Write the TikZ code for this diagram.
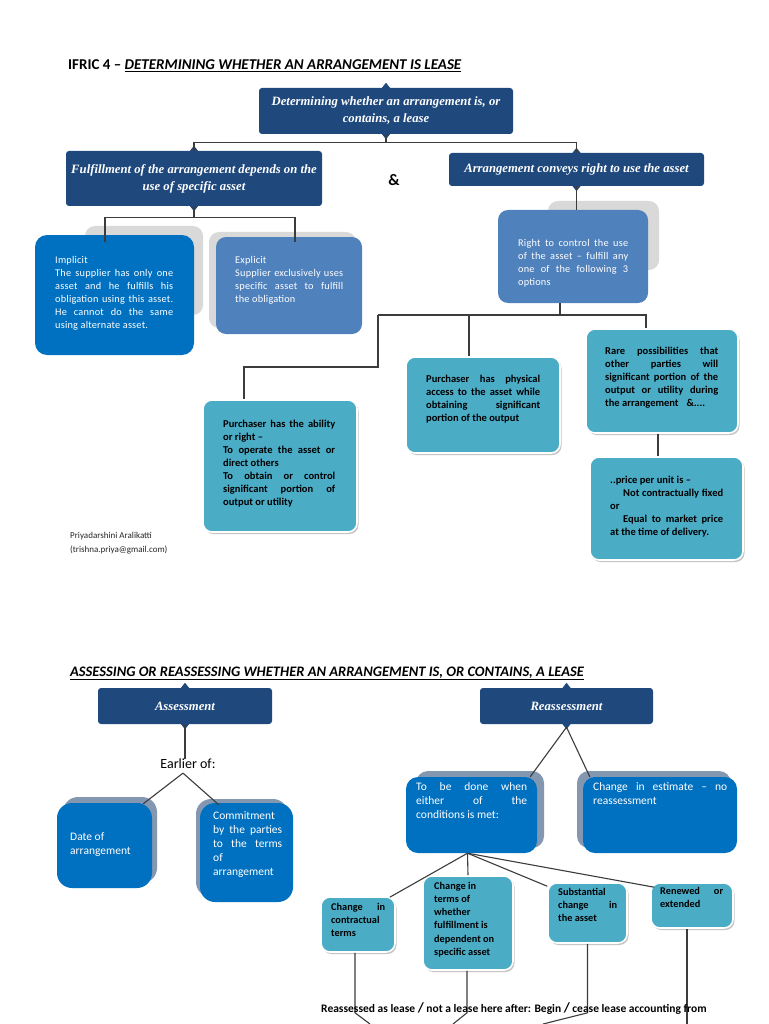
\documentclass[tikz,border=0pt]{standalone}
\usepackage{fontspec}
\setmainfont{Carlito}
\newfontfamily\serifbi{Liberation Serif}
\newfontfamily\lsfont[LetterSpace=2.0]{Carlito}
\usetikzlibrary{fit,calc,shadows}
\definecolor{dk}{HTML}{1F497D}
\definecolor{mb}{HTML}{0070C0}
\definecolor{lb}{HTML}{4F81BD}
\definecolor{tl}{HTML}{4BACC6}
\definecolor{sh}{HTML}{D9D9D9}
\definecolor{sb}{HTML}{8497B0}
\definecolor{ln}{HTML}{3C3C3C}
\newcommand\jl[1]{\hbox to\hsize{\strut#1}}
\newcommand\Ln[1]{\hbox{\strut#1}}
\newcommand\tb[2]{\vbox{\hsize=#1\relax #2}}
\newcommand\notches[1]{%
  \fill[dk] ([xshift=-4pt]#1.north) -- ([yshift=5pt]#1.north) -- ([xshift=4pt]#1.north) -- cycle;
  \fill[dk] ([xshift=-4pt]#1.south) -- ([yshift=-5pt]#1.south) -- ([xshift=4pt]#1.south) -- cycle;}
\tikzset{
  dkbox/.style={fill=dk, rounded corners=3pt, inner sep=0},
  mbbox/.style={fill=mb, rounded corners=12pt, inner sep=0},
  lbbox/.style={fill=lb, rounded corners=10pt, inner sep=0},
  tlbox/.style={fill=tl, draw=white, line width=1.6pt, rounded corners=9pt, inner sep=0,
    drop shadow={shadow xshift=1.5pt, shadow yshift=-2pt, fill=black!45, opacity=.5}},
  hd/.style={inner sep=0, align=center, text=white, font={\fontsize{12.7}{17}\serifbi\bfseries\itshape}},
  tx/.style={inner sep=0, anchor=north west, text=white, font={\fontsize{10.3}{13}\lsfont}},
  txb/.style={inner sep=0, anchor=north west, text=black, font={\fontsize{10.5}{13}\selectfont\bfseries}},
  txs/.style={inner sep=0, anchor=north west, text=black, font={\fontsize{10.3}{13.2}\selectfont\bfseries}},
  txc/.style={inner sep=0, anchor=north west, text=white, font={\fontsize{11.5}{14}\selectfont}},
  cn/.style={draw=ln, line width=1.1pt},
}
\begin{document}
\begin{tikzpicture}[x=1pt,y=-1pt]
\useasboundingbox (0,0) rectangle (768,1024);
\fill[white] (0,0) rectangle (768,1024);

% ---------- title ----------
\node[anchor=base west, inner sep=0, font={\fontsize{15}{17}\selectfont\bfseries}] (title) at (68,70)
  {IFRIC 4 -- \textit{\underline{DETERMINING WHETHER AN ARRANGEMENT IS LEASE}}};

% ---------- top boxes ----------
\node[dkbox, fit={(259,88)(513,134)}] (A) {};
\node[hd] (At) at (A.center) {Determining whether an arrangement is, or\\contains, a lease};
\node[dkbox, fit={(66,151)(322,206)}] (B) {};
\node[hd] (Bt) at (B.center) {Fulfillment of the arrangement depends on the\\use of specific asset};
\node[dkbox, fit={(449,153)(704,186)}] (C) {};
\node[hd] (Ct) at (C.center) {Arrangement conveys right to use the asset};
\notches{A}\notches{B}\notches{C}
\node[inner sep=0, font={\fontsize{16}{18}\selectfont\bfseries}] (amp) at (394,180) {\&};

\draw[cn] (A.south) -- ++(0,8) coordinate (ab) -| (B.north);
\draw[cn] (ab) -| (C.north);

% ---------- implicit / explicit ----------
\fill[sh, rounded corners=10pt] (85,226) rectangle (203,315);
\node[mbbox, fit={(35,235)(194,355)}] (impl) {};
\node[tx] (implT) at (55,253.9) {\tb{118pt}{\Ln{Implicit}\jl{The supplier has only one}\jl{asset and he fulfills his}\jl{obligation using this asset.}\jl{He cannot do the same}\Ln{using alternate asset.}}};
\fill[sh, rounded corners=10pt] (209,232) rectangle (356,328);
\node[lbbox, fit={(216,237)(362,334)}] (expl) {};
\node[tx] (explT) at (235,253.9) {\tb{108pt}{\Ln{Explicit}\jl{Supplier exclusively uses}\jl{specific asset to fulfill}\Ln{the obligation}}};
\draw[cn] (B.south) -- ++(0,11) coordinate (bk);
\draw[cn] ([xshift=-9.5pt,yshift=-7pt]impl.north) |- (bk) -| ([xshift=6pt,yshift=-5pt]expl.north);

% ---------- right to control ----------
\fill[sh, rounded corners=10pt] (548,201) rectangle (659,270);
\node[lbbox, fit={(498,210)(648,303)}] (D) {};
\node[tx] (DT) at (518,236.9) {\tb{110pt}{\jl{Right to control the use}\jl{of the asset – fulfill any}\jl{one of the following 3}\Ln{options}}};
\draw[cn] (C.south) -- (C.south |- D.north);

% ---------- three options ----------
\node[tlbox, fit={(203,400)(357,532)}] (P1) {};
\node[txb] (P1T) at (223,417.9) {\tb{112pt}{\jl{Purchaser has the ability}\Ln{or right –}\jl{To operate the asset or}\Ln{direct others}\jl{To obtain or control}\jl{significant portion of}\Ln{output or utility}}};
\node[tlbox, fit={(406,357)(560,453)}] (P2) {};
\node[txb] (P2T) at (426,372.9) {\tb{114pt}{\jl{Purchaser has physical}\jl{access to the asset while}\jl{obtaining significant}\Ln{portion of the output}}};
\node[tlbox, fit={(586,329)(738,433)}] (P3) {};
\node[txb] (P3T) at (605,344.9) {\tb{113pt}{\jl{Rare possibilities that}\jl{other parties will}\jl{significant portion of the}\jl{output or utility during}\Ln{the arrangement\hspace{8pt}\&....}}};
\node[tlbox, fit={(590,457)(743,560)}] (P4) {};
\node[txb] (P4T) at (610,473.9) {\tb{113pt}{\Ln{..price per unit is –}\jl{\hspace*{13pt}Not contractually fixed}\Ln{or}\jl{\hspace*{13pt}Equal to market price}\Ln{at the time of delivery.}}};

\coordinate (busL) at (378,315);
\draw[cn] ([xshift=-13pt]D.south) |- (busL);
\coordinate (p1t) at ([xshift=-36pt]P1.north);
\draw[cn] (busL) -- ++(0,52) -| (p1t);
\coordinate (p2t) at ([xshift=-14pt]P2.north);
\draw[cn] (p2t |- busL) -- (p2t);
\coordinate (p3t) at ([xshift=-16pt]P3.north);
\draw[cn] (busL) -| (p3t);
\coordinate (p3b) at ([xshift=-4pt]P3.south);
\draw[cn] (p3b) -- (p3b |- P4.north);

% ---------- author ----------
\node[inner sep=0, anchor=north west, font={\fontsize{9}{14}\selectfont}, text=black!85] (auth) at (70,528.2)
  {\tb{150pt}{\Ln{Priyadarshini Aralikatti}\Ln{(trishna.priya@gmail.com)}}};

% ---------- second heading ----------
\node[anchor=base west, inner sep=0, font={\fontsize{14.5}{16}\selectfont\bfseries\itshape}] (h2) at (70,676)
  {\underline{ASSESSING OR REASSESSING WHETHER AN ARRANGEMENT IS, OR CONTAINS, A LEASE}};

\node[dkbox, fit={(98,688)(272,724)}] (AS) {};
\node[hd] (AST) at (AS.center) {Assessment};
\node[dkbox, fit={(480,688)(653,724)}] (RA) {};
\node[hd] (RAT) at (RA.center) {Reassessment};
\notches{AS}\notches{RA}

\node[inner sep=0, font={\fontsize{14}{16}\selectfont}] (EO) at (188,764) {Earlier of:};
\draw[cn] (AS.south) -- (AS.south |- EO.north);

\fill[sb, rounded corners=15pt] (63,797) rectangle (157,883);
\node[mbbox, rounded corners=15pt, fit={(57,803)(152,888)}] (DA) {};
\node[txc] (DAT) at (70,830.2) {\tb{80pt}{\Ln{Date of}\Ln{arrangement}}};
\fill[sb, rounded corners=15pt] (196,799) rectangle (288,897);
\node[mbbox, rounded corners=15pt, fit={(200,803)(293,902)}] (CO) {};
\node[txc] (COT) at (213,809.2) {\tb{69pt}{\Ln{Commitment}\jl{by the parties}\jl{to the terms}\Ln{of}\Ln{arrangement}}};
\coordinate (eo) at ([xshift=-5pt,yshift=-4pt]EO.south);
\draw[cn] (eo) -- ([xshift=-9pt,yshift=-1pt]DA.north east);
\draw[cn] (eo) -- ([xshift=19pt,yshift=-2pt]CO.north west);

\fill[sb, rounded corners=12pt] (416,771) rectangle (544,848);
\node[mbbox, fit={(406,777)(537,853)}] (TBD) {};
\node[txc] (TBDT) at (416,780.2) {\tb{111pt}{\jl{To be done when}\jl{either of the}\Ln{conditions is met:}}};
\fill[sb, rounded corners=12pt] (577,771) rectangle (731,848);
\node[mbbox, fit={(583,777)(737,853)}] (CE) {};
\node[txc] (CET) at (593,780.2) {\tb{134pt}{\jl{Change in estimate – no}\Ln{reassessment}}};
\coordinate (ra) at ([yshift=-3pt]RA.south);
\draw[cn] (ra) -- ([xshift=-7pt]TBD.north east);
\draw[cn] (ra) -- ([xshift=7pt]CE.north west);

% ---------- conditions ----------
\node[tlbox, fit={(321,897)(395,952)}] (CT) {};
\node[txs] (CTT) at (331,900.8) {\tb{54pt}{\jl{Change in}\Ln{contractual}\Ln{terms}}};
\node[tlbox, fit={(423,876)(513,970)}] (CW) {};
\node[txs] (CWT) at (434,879.8) {\tb{70pt}{\Ln{Change in}\Ln{terms of}\Ln{whether}\Ln{fulfillment is}\Ln{dependent on}\Ln{specific asset}}};
\node[tlbox, fit={(548,883)(627,943)}] (SC) {};
\node[txs] (SCT) at (558,885.8) {\tb{59pt}{\Ln{Substantial}\jl{change in}\Ln{the asset}}};
\node[tlbox, fit={(651,883)(733,928)}] (RE) {};
\node[txs] (RET) at (660,884.8) {\tb{63pt}{\jl{Renewed or}\Ln{extended}}};

\coordinate (tb) at ([xshift=-4pt]TBD.south);
\draw[cn] (tb) -- ([xshift=-6pt,yshift=-1pt]CT.north east);
\draw[cn] (tb) -- (CW.north);
\draw[cn] (tb) -- ([yshift=-4pt]SC.north west);
\draw[cn] (tb) -- ([xshift=4pt,yshift=-5pt]RE.north west);

\coordinate (b1) at (370,1024);
\coordinate (b2) at (453,1024);
\coordinate (b3) at (543,1024);
\coordinate (b4) at (687,1024);
\draw[cn] ([xshift=-3pt]CT.south) -- ++(0,60) -- (b1);
\draw[cn] ([xshift=-1pt]CW.south) -- ++(0,42) -- (b2);
\draw[cn] (SC.south) -- ++(0,69) -- (b3);
\draw[cn] ([xshift=-5pt]RE.south) -- (b4);

\node[anchor=base west, inner sep=0, font={\fontsize{11.5}{13}\selectfont\bfseries}] (RL) at (321,1012)
  {Reassessed as lease {\fontsize{14}{15}\selectfont/} not a lease here after: Begin {\fontsize{14}{15}\selectfont/} cease lease accounting from};
\end{tikzpicture}
\end{document}
